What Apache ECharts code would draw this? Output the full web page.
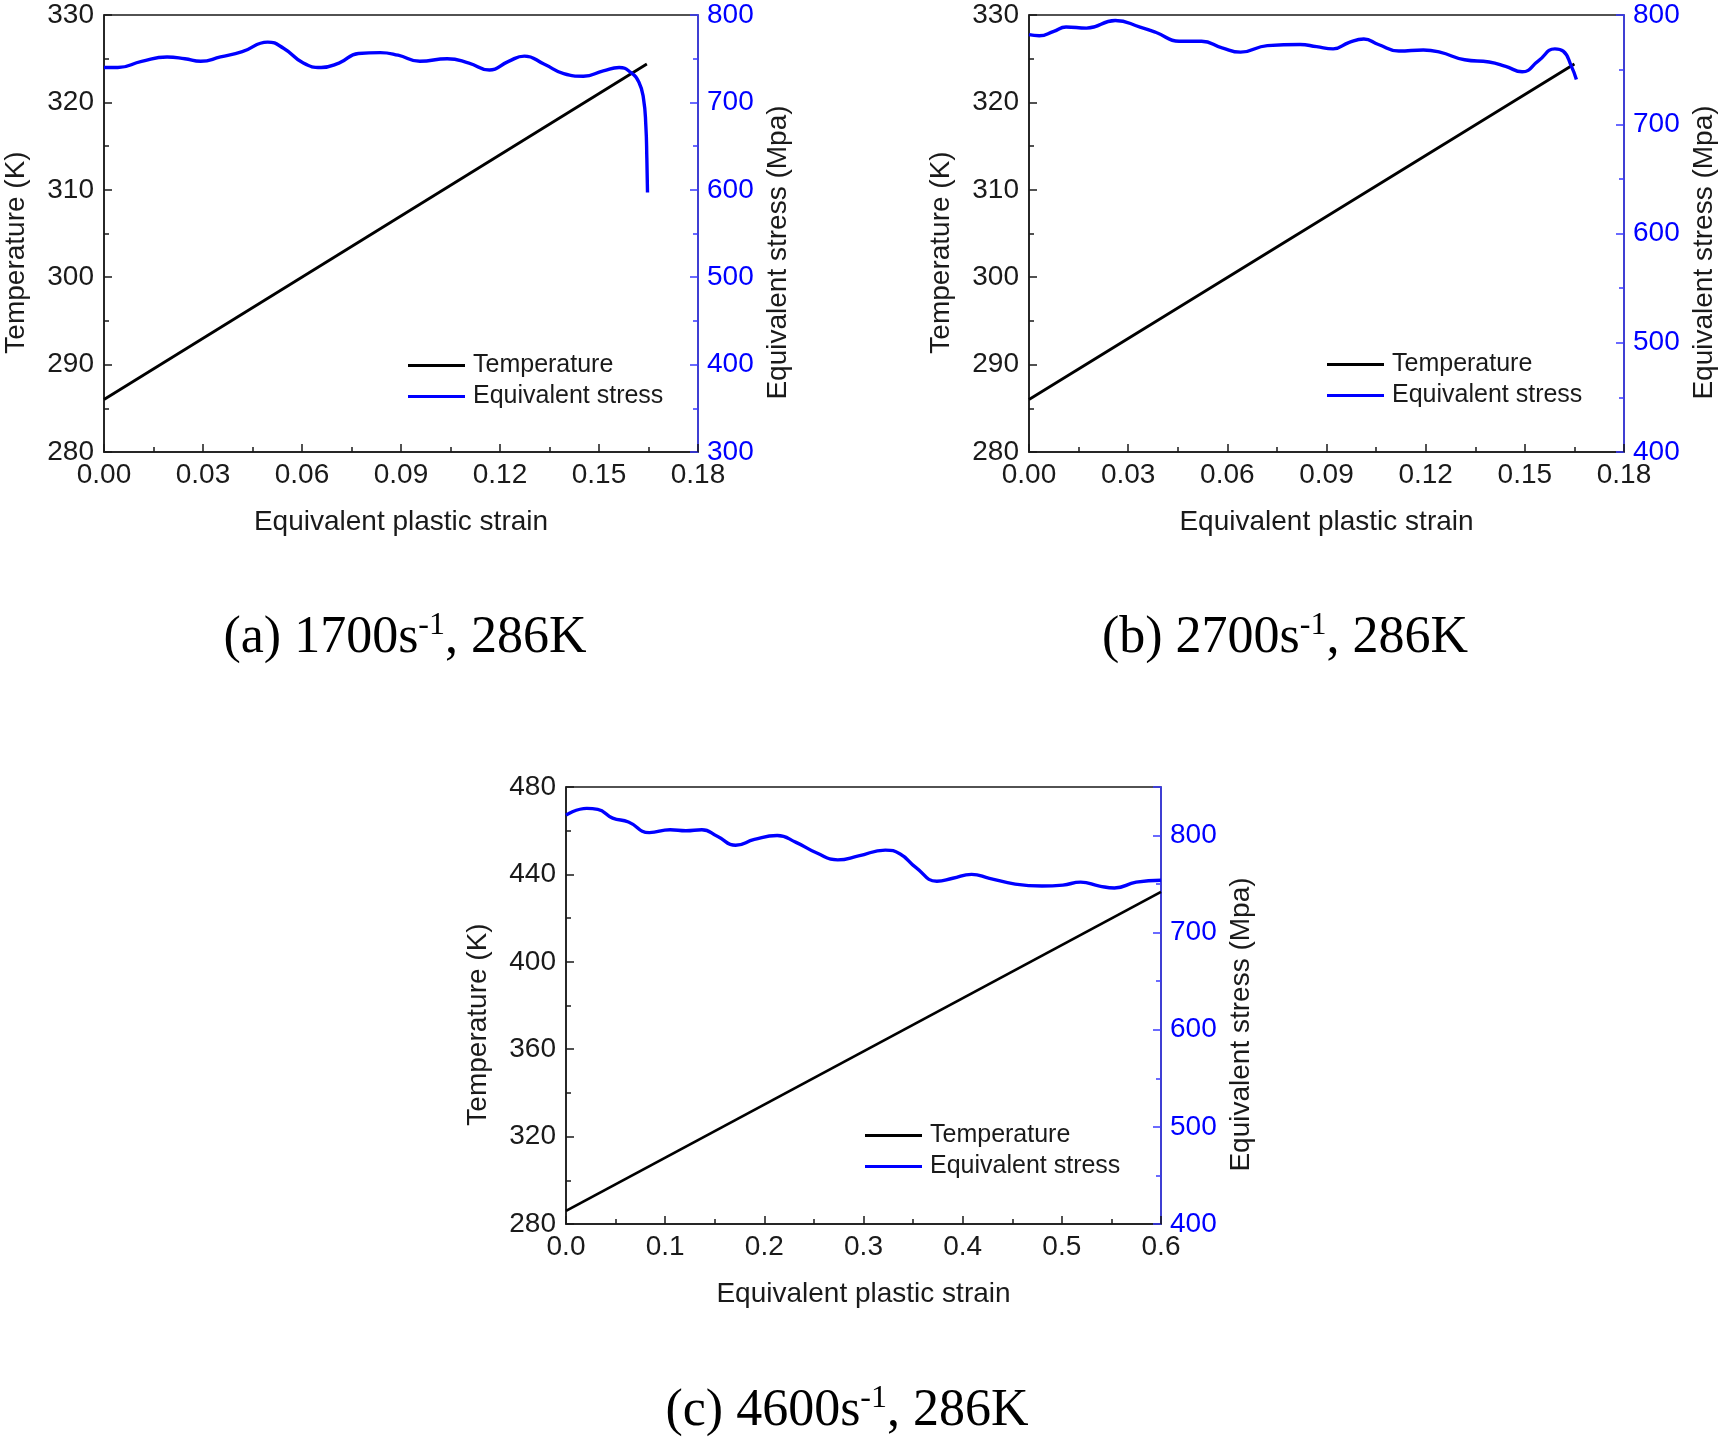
<!DOCTYPE html>
<html>
<head>
  <meta charset="UTF-8">
  <style>
    html, body { margin: 0; background: #fff; }
    #chart { width: 1720px; height: 1438px; }
  </style>
  <script src="https://cdn.jsdelivr.net/npm/echarts@6/dist/echarts.min.js"></script>
</head>
<body>
  <div id="chart"></div>
  <script>
    // (a) 1700 s-1
    const strainA = [0, 0.0042, 0.0114, 0.0191, 0.0245, 0.0293, 0.0353, 0.0419, 0.0496, 0.0544, 0.0604, 0.0658,
      0.0712, 0.0771, 0.0837, 0.0891, 0.0957, 0.1040, 0.1106, 0.1168, 0.1226, 0.1274, 0.1333, 0.1393, 0.1453,
      0.1513, 0.1561, 0.1597, 0.1621, 0.1635, 0.1642, 0.1645, 0.1647]
    const stressA = [740, 740, 747, 752, 750, 747, 752, 758, 769, 762, 745, 740,
      745, 756, 757, 754, 747, 750, 745, 737, 747, 753, 744, 733, 730,
      736, 740, 734, 723, 704, 673, 636, 597]
    const tempStrainA = [0, 0.1645]
    const tempA = [286, 324.4]

    // (b) 2700 s-1
    const strainB = [0, 0.0031, 0.0075, 0.0112, 0.0174, 0.0261, 0.0336, 0.0385, 0.0454, 0.0522, 0.0584, 0.0640,
      0.0721, 0.0820, 0.0870, 0.0920, 0.0969, 0.1013, 0.1057, 0.1119, 0.1193, 0.1243, 0.1318, 0.1392, 0.1442,
      0.1492, 0.1541, 0.1591, 0.1616, 0.1641, 0.1656]
    const stressB = [782, 781, 785, 789, 788, 795, 789, 784, 776, 776, 770, 766,
      772, 773, 771, 769, 775, 778, 773, 767, 768, 766, 759, 757, 753,
      748, 758, 769, 767, 753, 741]
    const tempStrainB = [0, 0.1650]
    const tempB = [286, 324.4]

    // (c) 4600 s-1
    const strainC = [0, 0.021, 0.032, 0.047, 0.063, 0.084, 0.105, 0.121, 0.137, 0.153, 0.171, 0.190, 0.213,
      0.232, 0.253, 0.274, 0.295, 0.322, 0.337, 0.353, 0.374, 0.390, 0.409, 0.427, 0.453, 0.480, 0.501,
      0.519, 0.538, 0.553, 0.575, 0.600]
    const stressC = [821, 828, 827, 818, 814, 803, 806, 805, 806, 799, 790, 796, 800,
      793, 782, 775, 779, 785, 781, 767, 753, 756, 760, 756, 750, 748, 749,
      752, 748, 746, 752, 754]
    const tempStrainC = [0, 0.6]
    const tempC = [286, 432]

    const seriesNames = ['Temperature', 'Equivalent stress']
    const captions = [
      ['(a) 1700s', '-1', ', 286K'],
      ['(b) 2700s', '-1', ', 286K'],
      ['(c) 4600s', '-1', ', 286K']
    ]

    const font = 'Liberation Sans, Arial, sans-serif'
    const serif = 'Liberation Serif, Times New Roman, serif'
    const blue = '#0000ff'
    const axisBlue = '#3a3aff'
    const dark = '#1a1a1a'

    function pairs (xs, ys) {
      return xs.map((x, i) => [x, ys[i]])
    }

    const grids = [
      { left: 104, top: 15, width: 594, height: 437 },
      { left: 1029, top: 15, width: 595, height: 437 },
      { left: 566, top: 787, width: 595, height: 437 }
    ]

    // the y names sit a bit below the middle of the axis, as in the source
    const namePad = [0, 38, 0, 0]

    function xAx (gi, max, interval, digits) {
      return {
        type: 'value', gridIndex: gi, min: 0, max: max, interval: interval,
        name: 'Equivalent plastic strain', nameLocation: 'middle', nameGap: 56,
        nameTextStyle: { fontFamily: font, fontSize: 28, color: dark },
        axisLine: { show: true, onZero: false, lineStyle: { color: dark, width: 1.5 } },
        axisTick: { inside: true, length: 8, lineStyle: { color: dark, width: 1.5 } },
        minorTick: { show: true, splitNumber: 2, length: 5, lineStyle: { color: dark, width: 1.5 } },
        splitLine: { show: false },
        axisLabel: { fontFamily: font, fontSize: 28, color: dark, margin: 9,
          formatter: v => v.toFixed(digits) }
      }
    }

    function yLeft (gi, min, max, interval) {
      return {
        type: 'value', gridIndex: gi, position: 'left', min: min, max: max, interval: interval,
        name: 'Temperature (K)', nameLocation: 'middle', nameGap: 74, nameRotate: 90,
        nameTextStyle: { fontFamily: font, fontSize: 28, color: dark, padding: namePad },
        axisLine: { show: true, onZero: false, lineStyle: { color: dark, width: 1.5 } },
        axisTick: { inside: true, length: 8, lineStyle: { color: dark, width: 1.5 } },
        minorTick: { show: true, splitNumber: 2, length: 5, lineStyle: { color: dark, width: 1.5 } },
        splitLine: { show: false },
        axisLabel: { fontFamily: font, fontSize: 28, color: dark, margin: 10 }
      }
    }

    function yRight (gi, min, max, interval, hideMax) {
      return {
        type: 'value', gridIndex: gi, position: 'right', min: min, max: max, interval: interval,
        name: 'Equivalent stress (Mpa)', nameLocation: 'middle', nameGap: 66, nameRotate: 90,
        nameTextStyle: { fontFamily: font, fontSize: 28, color: dark, padding: namePad },
        axisLine: { show: true, onZero: false, lineStyle: { color: axisBlue, width: 1.5 } },
        axisTick: { inside: true, length: 8, lineStyle: { color: axisBlue, width: 1.5 } },
        minorTick: { show: true, splitNumber: 2, length: 5, lineStyle: { color: axisBlue, width: 1.5 } },
        splitLine: { show: false },
        axisLabel: { fontFamily: font, fontSize: 28, color: blue, margin: 9, showMaxLabel: !hideMax }
      }
    }

    function tempSeries (i, xs, ys) {
      return {
        type: 'line', name: seriesNames[0], xAxisIndex: i, yAxisIndex: i * 2,
        data: pairs(xs, ys), symbol: 'none',
        lineStyle: { color: '#000', width: 2.8 }, itemStyle: { color: '#000' }
      }
    }

    function stressSeries (i, xs, ys) {
      return {
        type: 'line', name: seriesNames[1], xAxisIndex: i, yAxisIndex: i * 2 + 1,
        data: pairs(xs, ys), symbol: 'none', smooth: 0.5,
        lineStyle: { color: blue, width: 3.4 }, itemStyle: { color: blue }
      }
    }

    const legendPos = [[408, 353], [1327, 352], [865, 1123]]
    const captionPos = [[405, 638], [1285, 638], [847, 1411]]

    const myChart = echarts.init(document.getElementById('chart'))

    const options = {
      animation: false,
      grid: grids.map(g => Object.assign({ show: true, borderColor: dark, borderWidth: 1.5 }, g)),
      xAxis: [xAx(0, 0.18, 0.03, 2), xAx(1, 0.18, 0.03, 2), xAx(2, 0.6, 0.1, 1)],
      yAxis: [
        yLeft(0, 280, 330, 10), yRight(0, 300, 800, 100, false),
        yLeft(1, 280, 330, 10), yRight(1, 400, 800, 100, false),
        yLeft(2, 280, 480, 40), yRight(2, 400, 850, 100, true)
      ],
      legend: legendPos.map(p => ({
        left: p[0], top: p[1], orient: 'vertical', padding: 0,
        itemWidth: 57, itemHeight: 3, itemGap: 6, icon: 'rect',
        data: seriesNames,
        textStyle: { fontFamily: font, fontSize: 25, color: dark, padding: [0, 0, 0, 3] }
      })),
      graphic: captions.map((c, i) => ({
        type: 'text', x: captionPos[i][0], y: captionPos[i][1],
        style: {
          text: '{n|' + c[0] + '}{s|' + c[1] + '}{n|' + c[2] + '}',
          align: 'center', verticalAlign: 'middle',
          rich: {
            n: { fontFamily: serif, fontSize: 52, color: dark, lineHeight: 56 },
            s: { fontFamily: serif, fontSize: 32, color: dark, lineHeight: 32, verticalAlign: 'top' }
          }
        }
      })),
      series: [
        tempSeries(0, tempStrainA, tempA), stressSeries(0, strainA, stressA),
        tempSeries(1, tempStrainB, tempB), stressSeries(1, strainB, stressB),
        tempSeries(2, tempStrainC, tempC), stressSeries(2, strainC, stressC)
      ]
    }

    myChart.setOption(options)
  </script>
</body>
</html>
